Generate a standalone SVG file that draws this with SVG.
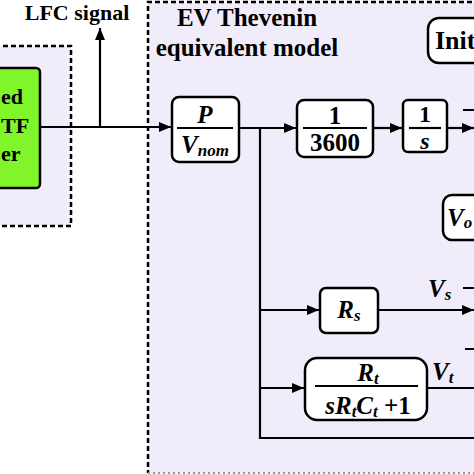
<svg xmlns="http://www.w3.org/2000/svg" width="474" height="474" viewBox="0 0 474 474">
<style>
.t{font-family:"Liberation Serif","Times New Roman",serif;font-weight:bold;fill:#000}
.i{font-style:italic}
.blk{fill:#fff;stroke:#000;stroke-width:2.5}
.ln{fill:none;stroke:#000;stroke-width:2.2}
.dash{fill:none;stroke:#000;stroke-width:2.5;stroke-dasharray:5 3}
</style>
<defs>
<marker id="ar" viewBox="0 0 12 10" refX="12" refY="5" markerWidth="12" markerHeight="10" markerUnits="userSpaceOnUse" orient="auto">
<path d="M0,0 L12,5 L0,10 Z" fill="#000"/>
</marker>
</defs>
<rect width="474" height="474" fill="#fff"/>
<g id="controller-area">
<rect x="-5" y="46" width="76" height="180" fill="#f1ecf9"/>
<path d="M-5,46 H71 V226 H-5" class="dash"/>
</g>
<g id="ev-area">
<rect x="148" y="2" width="330" height="471" fill="#f1ecf9"/>
<path d="M480,2 H148 V473" class="dash"/>
<path d="M148,473 H480" fill="none" stroke="#999" stroke-width="2" stroke-dasharray="2 3"/>
<text class="t" x="247" y="26" font-size="25" text-anchor="middle">EV Thevenin</text>
<text class="t" x="247" y="56" font-size="25" text-anchor="middle">equivalent model</text>
</g>
<g id="controller">
<rect x="-10" y="68" width="50" height="120" rx="4" fill="#80f52a" stroke="#000" stroke-width="2.5"/>
<text class="t" x="1" y="104" font-size="22">ed</text>
<text class="t" x="1" y="133" font-size="22">TF</text>
<text class="t" x="1" y="161" font-size="22">er</text>
</g>
<g id="lfc-label">
<text class="t" x="77" y="20" font-size="22" text-anchor="middle">LFC signal</text>
</g>
<g id="connectors">
<path d="M40,127 H171" class="ln" marker-end="url(#ar)"/>
<path d="M100,127 V28" class="ln" marker-end="url(#ar)"/>
<path d="M239,128 H296" class="ln" marker-end="url(#ar)"/>
<path d="M260,128 V438 H478" class="ln"/>
<path d="M373,128 H402" class="ln" marker-end="url(#ar)"/>
<path d="M447,128 H474" class="ln" marker-end="url(#ar)"/>
<path d="M260,310 H319" class="ln" marker-end="url(#ar)"/>
<path d="M378,310 H474" class="ln" marker-end="url(#ar)"/>
<path d="M260,388 H304" class="ln" marker-end="url(#ar)"/>
<path d="M427,388 H478" class="ln"/>
<path d="M463,110 H476 M463,288 H476 M465,349 H476" class="ln"/>
</g>
<g id="gain-p">
<rect x="172" y="97" width="67" height="65" rx="7" class="blk"/>
<line x1="177" y1="128" x2="233" y2="128" class="ln"/>
<text class="t i" x="205" y="123" font-size="25" text-anchor="middle">P</text>
<text class="t i" x="181" y="153" font-size="25">V<tspan font-size="17" dy="3">nom</tspan></text>
</g>
<g id="gain-3600">
<rect x="297" y="100" width="76" height="57" rx="7" class="blk"/>
<line x1="303" y1="128" x2="367" y2="128" class="ln"/>
<text class="t" x="335" y="124" font-size="25" text-anchor="middle">1</text>
<text class="t" x="335" y="151" font-size="25" text-anchor="middle">3600</text>
</g>
<g id="integrator">
<rect x="403" y="100" width="44" height="52" rx="5" class="blk"/>
<line x1="409" y1="128" x2="441" y2="128" class="ln"/>
<text class="t" x="425" y="122" font-size="24" text-anchor="middle">1</text>
<text class="t i" x="425" y="149" font-size="24" text-anchor="middle">s</text>
</g>
<g id="init">
<rect x="428" y="18" width="60" height="45" rx="11" class="blk"/>
<text class="t" x="435" y="49" font-size="26">Init</text>
</g>
<g id="voc">
<rect x="443" y="195" width="45" height="45" rx="9" class="blk"/>
<text class="t i" x="447" y="226" font-size="25">V<tspan font-size="17" dy="2">o</tspan></text>
</g>
<g id="rs">
<rect x="320" y="288" width="58" height="45" rx="6" class="blk"/>
<text class="t i" x="349" y="318" font-size="25" text-anchor="middle">R<tspan font-size="17" dy="3">s</tspan></text>
</g>
<g id="rt">
<rect x="305" y="358" width="122" height="62" rx="12" class="blk"/>
<line x1="315" y1="386" x2="418" y2="386" class="ln"/>
<text class="t i" x="368" y="381" font-size="25" text-anchor="middle">R<tspan font-size="17" dy="3">t</tspan></text>
<text class="t i" x="368" y="414" font-size="25" text-anchor="middle">sR<tspan font-size="17" dy="3">t</tspan><tspan dy="-3">C</tspan><tspan font-size="17" dy="3">t</tspan><tspan dy="-3" font-style="normal"> +1</tspan></text>
</g>
<g id="labels">
<text class="t i" x="428" y="297" font-size="25">V<tspan font-size="17" dy="3">s</tspan></text>
<text class="t i" x="432" y="380" font-size="25">V<tspan font-size="17" dy="3">t</tspan></text>
</g>
</svg>
